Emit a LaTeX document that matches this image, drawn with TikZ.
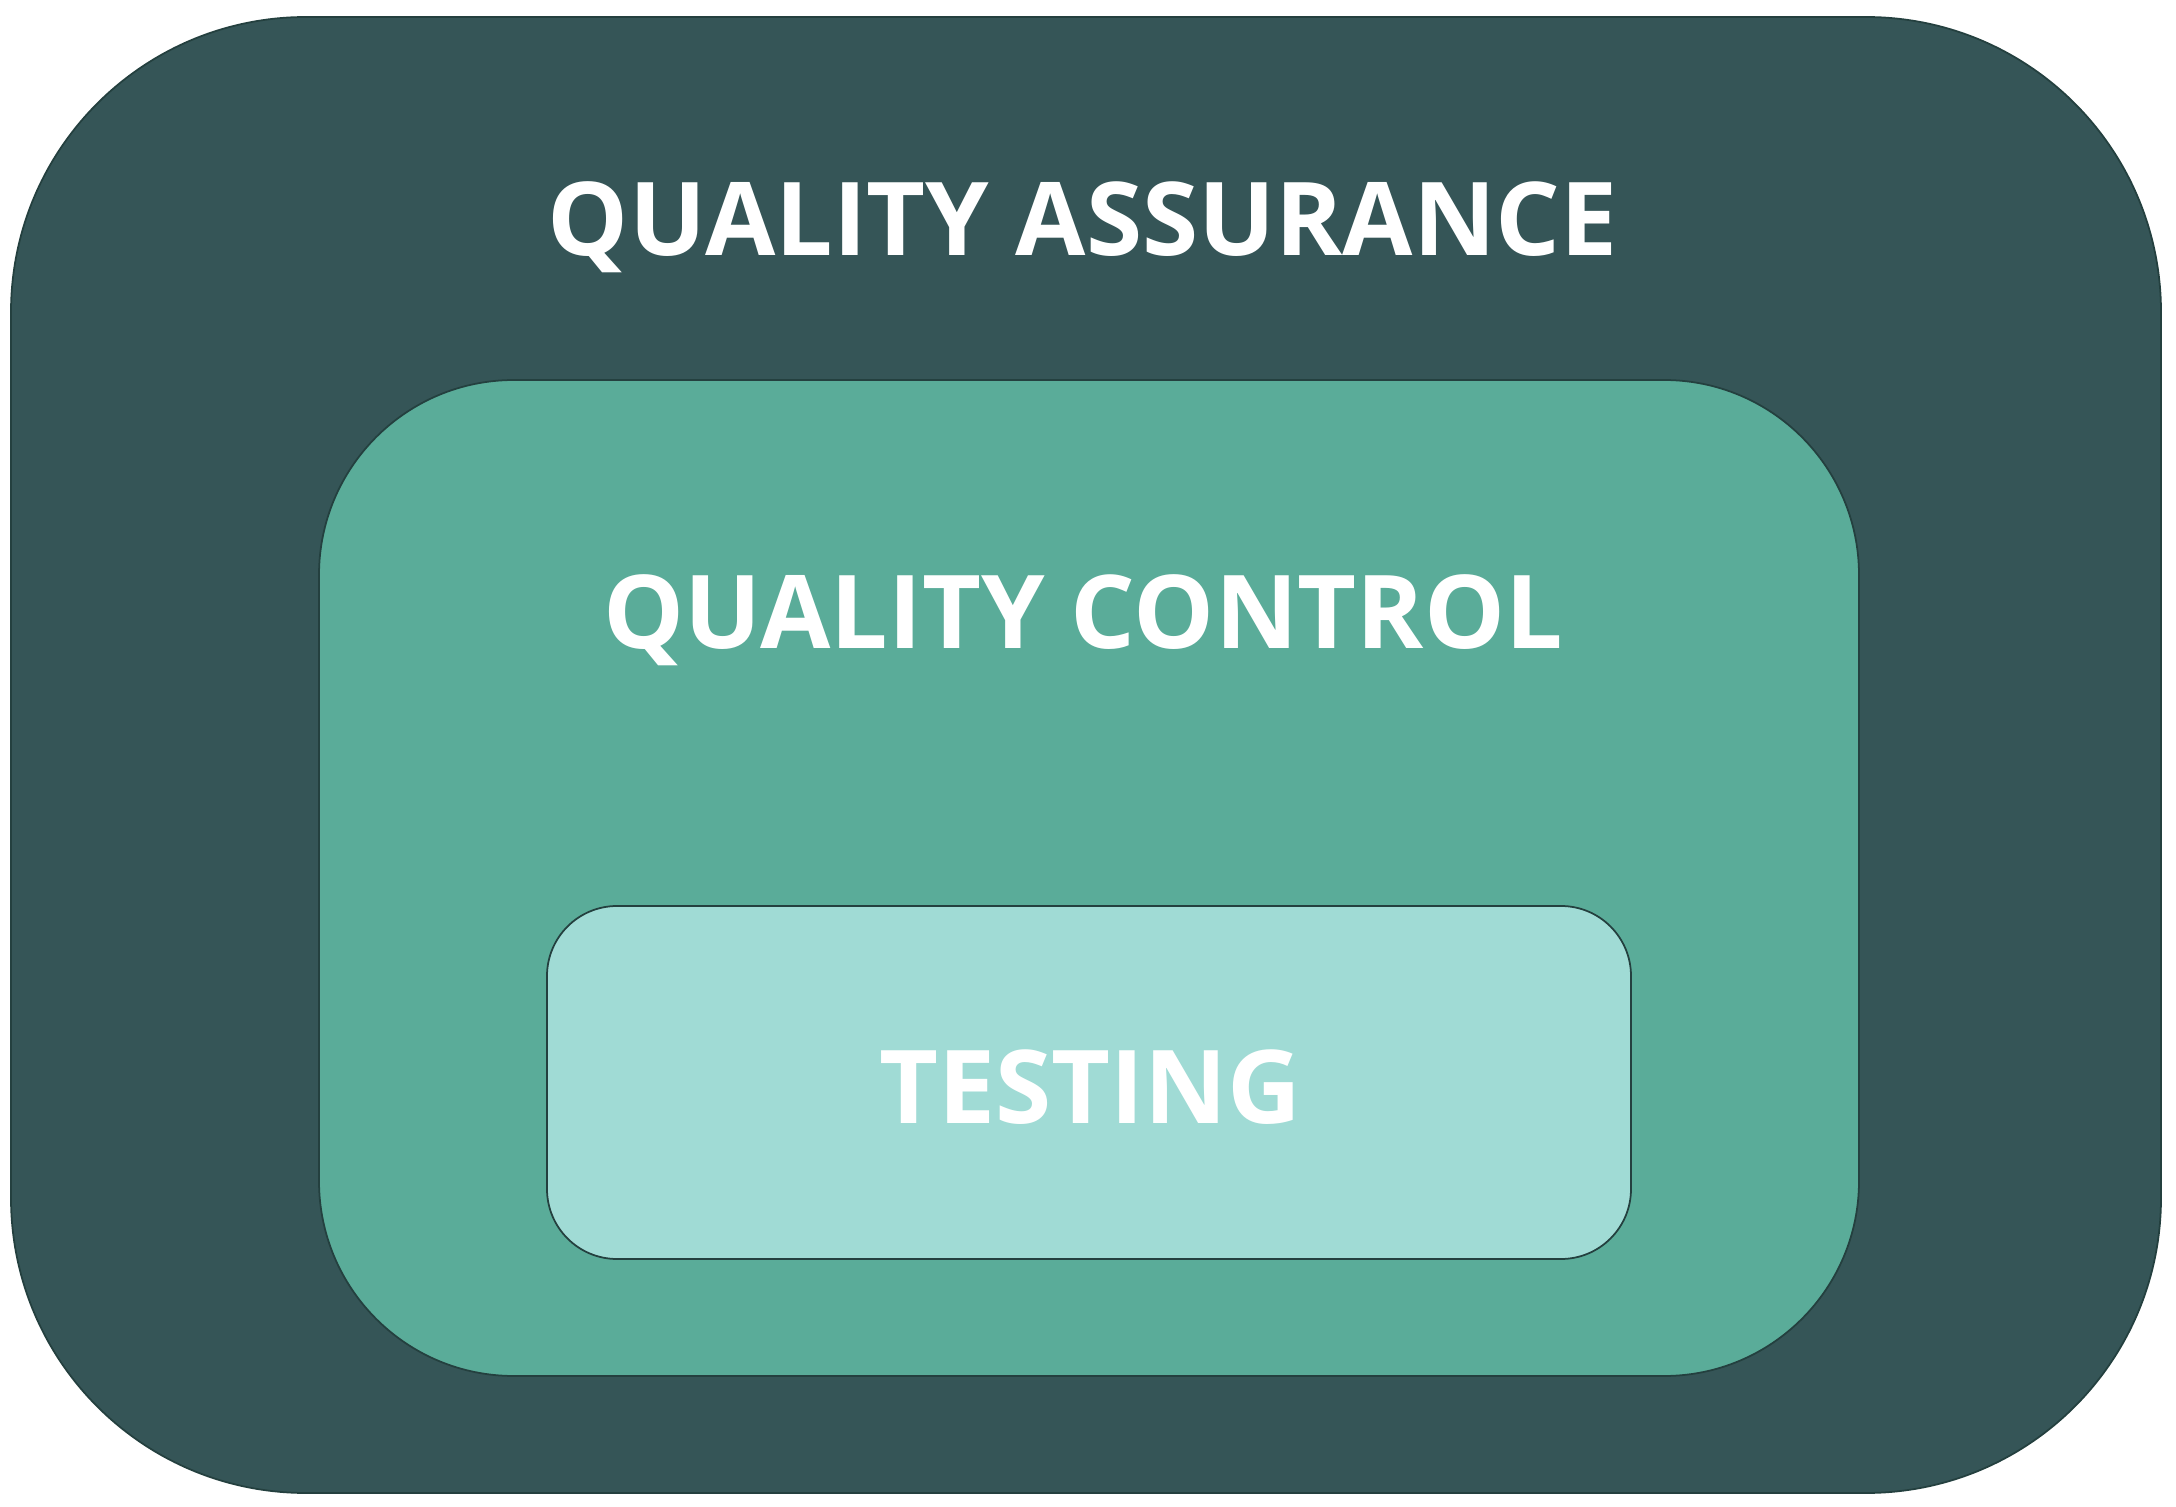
\documentclass[tikz,border=0pt]{standalone}
\usepackage{fontspec}
\setmainfont{Open Sans}
\definecolor{qadark}{HTML}{355557}
\definecolor{qcmid}{HTML}{5AAC99}
\definecolor{tlight}{HTML}{A0DBD5}
\definecolor{edge}{HTML}{24403F}
\begin{document}
\begin{tikzpicture}

      \useasboundingbox (0,0) rectangle (21.76,15.06);

      \begin{scope}[every node/.style={draw=edge,line width=.5pt,inner sep=0pt}]
        \node[fill=qadark,minimum width=21.50cm,minimum height=14.76cm,rounded corners=2.95cm] (qa) at (10.86,7.51) {};
        \node[fill=qcmid,minimum width=15.40cm,minimum height=9.96cm,rounded corners=1.95cm] (qc) at (10.89,6.28) {};
        \node[fill=tlight,minimum width=10.84cm,minimum height=3.53cm,rounded corners=.70cm] (t) at (10.89,4.235) {};
      \end{scope}

      \begin{scope}[every node/.style={text=white,font=\bfseries\fontsize{29}{30}\selectfont,anchor=base,inner sep=0pt}]
        \node (qalabel) at (10.83,12.50) {QUALITY ASSURANCE};
        \node (qclabel) at (10.83,8.57)  {QUALITY CONTROL};
        \node (tlabel)  at (10.90,3.83)  {TESTING};
      \end{scope}

    \end{tikzpicture}
\end{document}
